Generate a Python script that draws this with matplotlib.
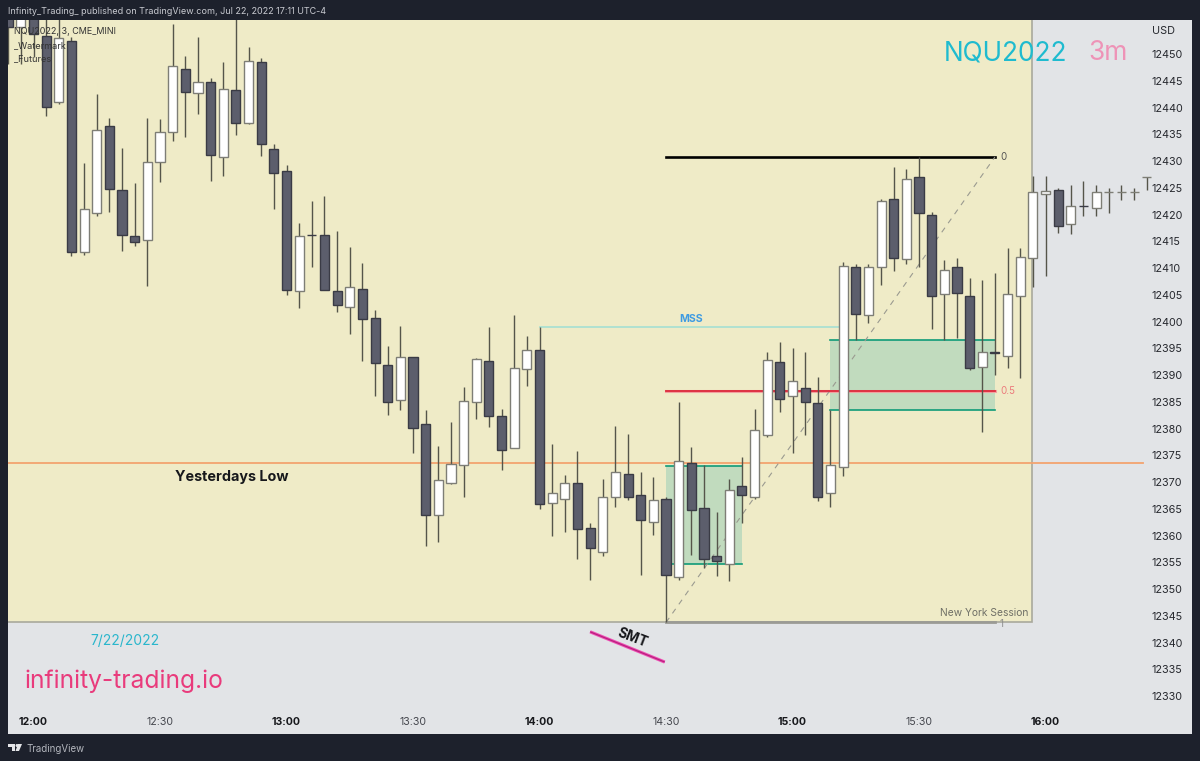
import matplotlib
matplotlib.use("Agg")
import matplotlib.pyplot as plt
from matplotlib.patches import Rectangle, Circle, Polygon
from matplotlib.transforms import Affine2D

plt.rcParams['font.family'] = ['Inter', 'DejaVu Sans']

# ==========================================
# CHART DATA (3 minute bars, index 0 = 12:00)
# ==========================================

first_bar = -2

opens = [12460.0, 12455.0, 12460.0, 12453.4, 12441.0, 12452.4, 12413.0, 12420.3, 12436.5, 12424.6,
         12416.0, 12415.2, 12429.8, 12435.4, 12447.2, 12442.7, 12444.8, 12430.7, 12443.3, 12437.1,
         12448.5, 12432.2, 12428.1, 12405.7, 12416.2, 12416.2, 12405.7, 12402.7, 12406.1, 12400.7,
         12391.9, 12385.3, 12393.4, 12380.8, 12363.8, 12369.8, 12373.2, 12385.0, 12392.6, 12382.3,
         12376.4, 12391.1, 12394.7, 12366.1, 12366.8, 12369.8, 12361.4, 12356.9, 12367.2, 12371.5,
         12367.6, 12362.5, 12366.8, 12352.2, 12373.6, 12365.1, 12356.2, 12354.7, 12369.3, 12367.2,
         12378.8, 12392.4, 12386.1, 12387.6, 12384.8, 12367.9, 12372.8, 12410.2, 12401.2, 12410.2,
         12422.9, 12411.7, 12427.0, 12419.9, 12405.1, 12410.2, 12404.8, 12391.5, 12394.3, 12393.6,
         12404.8, 12411.9, 12423.8, 12424.6, 12418.2, 12421.6, 12421.2, 12424.2, 12424.2, 12424.2,
         12427.0]

highs = [12462.0, 12462.0, 12462.0, 12460.0, 12460.0, 12453.2, 12429.6, 12442.5, 12438.0, 12432.4,
         12425.9, 12438.0, 12437.9, 12455.6, 12449.6, 12453.2, 12445.5, 12448.5, 12460.0, 12451.3,
         12449.3, 12433.2, 12429.3, 12418.4, 12422.5, 12423.5, 12416.9, 12413.9, 12410.9, 12402.1,
         12395.4, 12399.2, 12393.4, 12383.5, 12376.7, 12381.2, 12387.8, 12393.2, 12399.0, 12383.6,
         12401.2, 12397.3, 12399.0, 12377.1, 12371.3, 12375.8, 12362.3, 12370.6, 12380.5, 12379.0,
         12371.9, 12370.9, 12367.2, 12385.0, 12376.5, 12373.2, 12364.4, 12370.6, 12374.7, 12383.6,
         12394.3, 12396.2, 12395.0, 12394.3, 12389.6, 12383.5, 12411.1, 12410.7, 12410.7, 12422.9,
         12428.9, 12428.5, 12430.7, 12420.5, 12411.5, 12411.9, 12408.1, 12407.8, 12409.1, 12413.7,
         12413.7, 12427.2, 12427.2, 12425.0, 12425.5, 12426.3, 12425.5, 12425.0, 12425.5, 12425.0,
         12427.0]

lows = [12448.1, 12448.1, 12449.4, 12438.4, 12440.7, 12412.2, 12412.4, 12419.7, 12420.5, 12413.2,
        12414.1, 12406.6, 12426.1, 12433.7, 12434.5, 12438.8, 12426.3, 12427.2, 12434.9, 12437.0,
        12430.9, 12421.0, 12405.0, 12402.5, 12410.2, 12405.9, 12401.8, 12397.7, 12392.6, 12386.1,
        12382.5, 12383.5, 12375.4, 12358.0, 12358.8, 12369.6, 12367.2, 12381.8, 12380.3, 12372.2,
        12376.3, 12387.9, 12365.0, 12359.9, 12360.7, 12355.6, 12351.7, 12356.2, 12365.3, 12366.6,
        12352.6, 12360.1, 12343.8, 12351.7, 12356.4, 12353.9, 12352.4, 12351.5, 12362.3, 12366.8,
        12378.4, 12383.1, 12375.4, 12378.8, 12366.4, 12365.3, 12371.1, 12396.5, 12399.7, 12406.8,
        12409.4, 12410.7, 12410.2, 12398.6, 12396.5, 12396.9, 12390.9, 12379.3, 12390.0, 12391.3,
        12389.4, 12406.4, 12408.5, 12416.5, 12416.4, 12419.7, 12419.7, 12420.3, 12422.7, 12422.7,
        12424.6]

closes = [12455.0, 12460.0, 12453.7, 12440.1, 12453.0, 12413.0, 12421.0, 12435.8, 12424.8, 12416.2,
          12414.9, 12429.8, 12435.4, 12447.8, 12442.9, 12444.8, 12431.1, 12443.5, 12437.1, 12448.7,
          12433.2, 12427.8, 12405.9, 12416.0, 12416.1, 12405.9, 12403.1, 12406.4, 12400.5, 12392.2,
          12385.0, 12393.4, 12380.1, 12363.8, 12370.4, 12373.4, 12385.1, 12393.0, 12382.3, 12376.0,
          12391.3, 12394.7, 12365.9, 12367.9, 12369.8, 12361.2, 12357.7, 12367.2, 12371.9, 12367.2,
          12362.9, 12366.6, 12352.6, 12373.9, 12364.8, 12355.6, 12355.2, 12368.5, 12367.6, 12379.7,
          12392.8, 12385.5, 12388.9, 12385.0, 12367.2, 12373.2, 12410.4, 12401.4, 12410.2, 12422.5,
          12411.9, 12426.6, 12420.3, 12404.8, 12409.6, 12405.3, 12391.3, 12394.3, 12394.2, 12405.1,
          12412.1, 12424.2, 12424.4, 12417.9, 12421.6, 12421.5, 12424.2, 12424.3, 12424.3, 12424.3,
          12427.1]

price_ticks = list(range(12330, 12451, 5))
time_ticks = [0, 10, 20, 30, 40, 50, 60, 70, 80]
time_labels = ["12:00", "12:30", "13:00", "13:30", "14:00", "14:30", "15:00", "15:30", "16:00"]

yesterdays_low = 12373.6
mss_level = 12399.0
fib_top = 12430.75
fib_mid = 12387.0
fib_bottom = 12343.75
session_low = 12343.75
order_block_1 = (12354.7, 12373.0)
order_block_2 = (12383.5, 12396.5)
smt_prices = (12342.0, 12336.35)

# ==========================================
# FIGURE AND AXES
# ==========================================

W, H = 1200, 761
PANEL_BG = "#E2E4E7"
DARK_BG = "#1D212C"

fig = plt.figure(figsize=(W / 100, H / 100), dpi=100, facecolor=DARK_BG)
ax = fig.add_axes([8 / W, 1 - 734 / H, 1184 / W, 714 / H], facecolor=PANEL_BG)

ax.set_xlim(-2.016, 91.58)
ax.set_ylim(12322.9, 12456.36)

for side in ax.spines:
    ax.spines[side].set_visible(False)

# pixel positions of the reference, origin top left
px = Affine2D().scale(1 / W, -1 / H).translate(0, 1) + fig.transFigure

ax.yaxis.tick_right()
ax.set_yticks(price_ticks)
ax.set_yticklabels([str(p) for p in price_ticks])
ax.tick_params(axis='y', length=0, pad=-29, labelsize=7.8, labelcolor="#26282E")

ax.set_xticks(time_ticks)
ax.set_xticklabels(time_labels)
ax.tick_params(axis='x', length=0, pad=-12.3, labelsize=7.6, labelcolor="#44464D")
for lbl, t in zip(ax.get_xticklabels(), time_labels):
    if t.endswith(":00"):
        lbl.set_fontweight("bold")
        lbl.set_color("#17181C")

# ==========================================
# SESSION BOX
# ==========================================

session_right = 78.93
ax.add_patch(Rectangle((-2.1, session_low), session_right + 2.1, 12460 - session_low,
                       facecolor="#EFEBC7", edgecolor="#A9A99C", lw=1.2, zorder=1))

# ==========================================
# DRAWINGS UNDER THE CANDLES
# ==========================================

GREEN_FILL = "#C1DBBE"
GREEN_EDGE = "#0F9B78"
for (low, high), x0, x1 in [(order_block_1, 50, 56), (order_block_2, 63, 76)]:
    ax.add_patch(Rectangle((x0, low), x1 - x0, high - low, facecolor=GREEN_FILL, edgecolor="none", zorder=2))
    ax.plot([x0, x1], [high, high], color=GREEN_EDGE, lw=1.2, zorder=2.1)
    ax.plot([x0, x1], [low, low], color=GREEN_EDGE, lw=1.2, zorder=2.1)

ax.plot([-2.1, 87.7], [yesterdays_low, yesterdays_low], color="#F3A36F", lw=1.3, zorder=2.2)
ax.plot([40, 64], [mss_level, mss_level], color="#A5E0D2", lw=1.2, zorder=2.2)

ax.plot([50, 76], [fib_top, fib_top], color="#000000", lw=1.9, zorder=2.3)
ax.plot([50, 76], [fib_mid, fib_mid], color="#F2A0A0", lw=2.2, zorder=2.3)
ax.plot([50, 76], [fib_mid, fib_mid], color="#DC2A3C", lw=1.3, zorder=2.35)
ax.plot([50, 76], [fib_bottom, fib_bottom], color="#9B9B95", lw=2, zorder=2.3)
ax.plot([50, 76], [fib_bottom, fib_top], color="#9A9A90", lw=0.8, dashes=(5, 5), zorder=2.3)

# ==========================================
# CANDLES
# ==========================================

bars = [first_bar + n for n in range(len(opens))]

ax.vlines(bars, lows, highs, color="#55554A", lw=1.0, zorder=3)
for x, o, c in zip(bars, opens, closes):
    down = c < o
    ax.bar(x, abs(c - o), bottom=min(o, c), width=0.72,
           color="#5C5E6C" if down else "#FFFFFF",
           edgecolor="#3A3B45" if down else "#7E7E76",
           linewidth=1.0, zorder=4)

# ==========================================
# LABELS
# ==========================================

ax.plot([44, 49.9], smt_prices, color="#F04CB4", lw=2.3, zorder=5, solid_capstyle="butt")
ax.plot([44, 49.9], smt_prices, color="#B8227E", lw=0.9, zorder=5.1, solid_capstyle="butt")


def label(x, y, s, size, color, ha="left", weight="normal", rotation=0):
    fig.text(x, y, s, transform=px, fontsize=size, color=color, ha=ha, va="center",
             fontweight=weight, rotation=rotation, rotation_mode="anchor", zorder=10)


label(8, 12, "Infinity_Trading_ published on TradingView.com, Jul 22, 2022 17:11 UTC-4", 6.5, "#C9CBD1")
label(14, 32, "NQU2022, 3, CME_MINI", 6.5, "#333333")
label(14, 45.5, "_Watermark", 6.6, "#333333")
label(14, 58.5, "_Futures", 6.6, "#333333")
label(1152, 31, "USD", 7.8, "#26282E")

label(944, 53, "NQU2022", 18.9, "#1FBBCF")
label(1088, 53, "3m", 19, "#EE93B7")
label(90, 641, "7/22/2022", 10, "#2AB6CC")
label(25, 681, "infinity-trading.io", 17.7, "#E93B7C")

label(175, 476.5, "Yesterdays Low", 10.3, "#17181C", weight="bold")
label(691, 319, "MSS", 7.6, "#3E9BE2", ha="center", weight="bold")
label(618, 632.5, "SMT", 10, "#17181C", weight="bold", rotation=-21)
label(1028, 613.5, "New York Session", 7.4, "#6F6F66", ha="right")

label(1000, 157, "0", 7, "#555555")
label(1000, 391, "0.5", 7, "#EC7C7C")
label(1000, 624, "1", 7, "#8A8A8A")

label(26, 748.5, "TradingView", 7, "#B3B6BD")

# TradingView mark
logo = dict(transform=px, facecolor="#E4E5E8", edgecolor="none", zorder=10)
fig.add_artist(Polygon([(8, 744), (15, 744), (15, 751), (12, 751), (12, 747), (8, 747)], **logo))
fig.add_artist(Circle((17, 745.5), 1.5, **logo))
fig.add_artist(Polygon([(18, 744), (22, 744), (19, 751), (15.5, 751)], **logo))

fig.savefig("out.png", dpi=100, facecolor=fig.get_facecolor())
